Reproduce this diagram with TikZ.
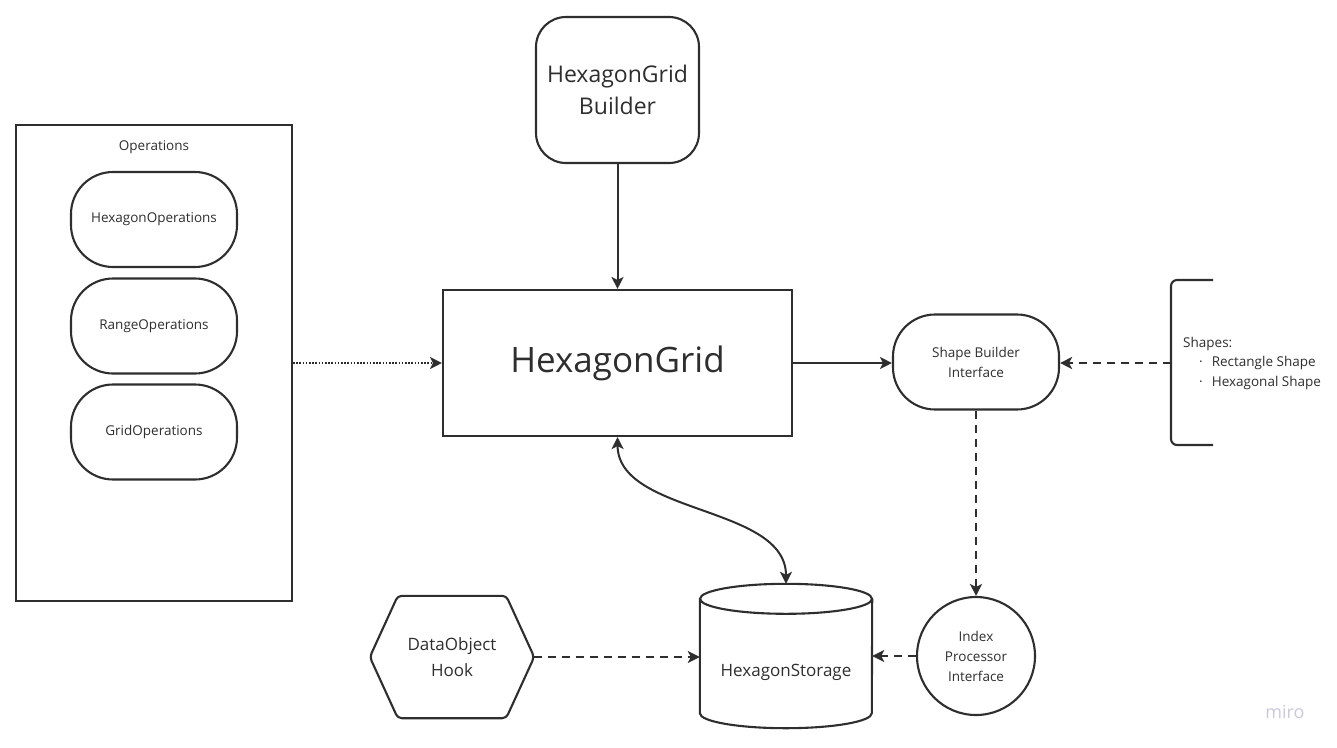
\documentclass[tikz,border=0pt]{standalone}
\usepackage{fontspec}
\setmainfont{Open Sans}
\usetikzlibrary{arrows.meta}
\definecolor{ink}{HTML}{2E2E2E}
\definecolor{mirogray}{HTML}{C9CAD9}

\begin{document}
\begin{tikzpicture}[x=1pt,y=-1pt,
    inkline/.style={draw=ink,line width=2.1pt},
    pill/.style={inkline,rounded corners=42pt,minimum width=166pt,minimum height=95pt,
      align=center,text=ink,font=\fontsize{13.5}{20}\selectfont},
    conn/.style={draw=ink,line width=2pt,-{Stealth[length=12pt,width=12pt,inset=3pt]}},
    dashconn/.style={conn,dash pattern=on 8pt off 6pt}]
  \useasboundingbox (0,0) rectangle (1337,747);

  % Operations group
  \node[inkline,minimum width=276pt,minimum height=476pt] (ops) at (154,363) {};
  \node[text=ink,font=\fontsize{13.5}{20}\selectfont] (opslabel) at (154,147) {Operations};
  \node[pill] (hexops) at (154,219.5) {HexagonOperations};
  \node[pill] (rangeops) at (154,326) {RangeOperations};
  \node[pill] (gridops) at (154,432) {GridOperations};

  % Grid and builder
  \node[inkline,rounded corners=30pt,minimum width=163pt,minimum height=146pt,align=center,
    text=ink,font=\fontsize{23}{32}\selectfont] (builder) at (617.5,90) {HexagonGrid\\Builder};
  \node[inkline,minimum width=349pt,minimum height=146pt,text=ink,
    font=\fontsize{35}{40}\selectfont] (grid) at (617.5,363) {HexagonGrid};

  % Interfaces
  \node[pill] (shapebuilder) at (976,362) {Shape Builder\\Interface};
  \node[inkline,circle,minimum size=118pt,inner sep=0pt,align=center,text=ink,
    font=\fontsize{13.5}{20}\selectfont] (index) at (976,656) {Index\\Processor\\Interface};

  % Shapes list
  \draw[inkline,rounded corners=6pt] (1213,280) -- (1171,280) -- (1171,445) -- (1213,445);
  \coordinate (brace) at (1171,363);
  \node[anchor=west,inner sep=0pt,align=left,text=ink,font=\fontsize{13.5}{19.5}\selectfont]
    (shapelist) at (1183,363) {Shapes:\\\hspace*{16pt}·\hspace*{9pt}Rectangle Shape\\\hspace*{16pt}·\hspace*{9pt}Hexagonal Shape};

  % Storage and hook
  \node[minimum width=164pt,minimum height=122pt,align=center,text=ink,
    font=\fontsize{17}{25.5}\selectfont] (hook) at (452,657) {DataObject\\Hook};
  \draw[inkline,rounded corners=4pt] (hook.west) -- ([xshift=28pt]hook.north west)
    -- ([xshift=-28pt]hook.north east) -- (hook.east)
    -- ([xshift=-28pt]hook.south east) -- ([xshift=28pt]hook.south west) -- cycle;
  \node[minimum width=172pt,minimum height=144pt] (storage) at (786,656) {};
  \draw[inkline] ([yshift=-15pt]storage.north west) -- ([yshift=15pt]storage.south west)
    arc[start angle=180,end angle=360,x radius=86pt,y radius=15pt]
    -- ([yshift=-15pt]storage.north east);
  \draw[inkline] ([yshift=-15pt]storage.north) ellipse[x radius=86pt,y radius=15pt];
  \node[text=ink,font=\fontsize{17}{25.5}\selectfont] (storagetext) at (786,672) {HexagonStorage};

  % Connectors
  \draw[conn] (builder) -- (grid);
  \draw[conn,dash pattern=on 1.6pt off 1.6pt,line width=1.6pt] (ops.east) -- (grid.west);
  \draw[conn] (grid.east) -- (grid.east -| shapebuilder.west);
  \draw[dashconn] (brace) -- (brace -| shapebuilder.east);
  \draw[dashconn] (shapebuilder) -- (index);
  \draw[dashconn] (index.west) -- (index.west -| storage.east);
  \draw[dashconn] (hook.east) -- (hook.east -| storage.west);
  \draw[conn,{Stealth[length=12pt,width=12pt,inset=3pt]}-{Stealth[length=12pt,width=12pt,inset=3pt]}]
    (grid.south) .. controls (618,515) and (786,505) .. (storage.north);

  % Watermark
  \node[text=mirogray,font=\fontsize{18}{18}\selectfont] (miro) at (1285,712) {miro};
\end{tikzpicture}
\end{document}
